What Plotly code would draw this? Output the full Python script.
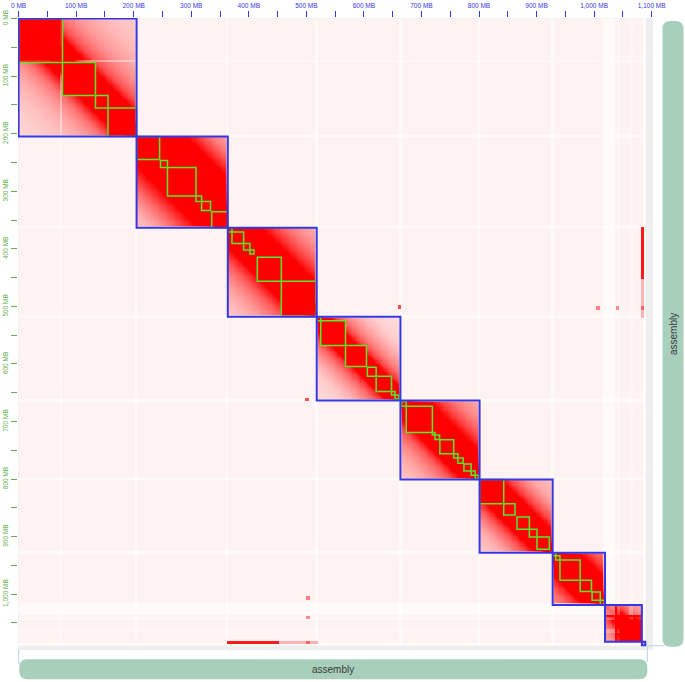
import numpy as np
import plotly.graph_objects as go

# ---------------- data (MB) ----------------
BIN_MB = 2.0
MAP_END_MB = 1090.0

chrom_bounds = [0, 205, 363.5, 518, 663.5, 801, 928, 1019, 1083, 1089]

# intra-chromosomal intensity vs distance from diagonal (1 = saturated red)
decay_dist = [
    [0, 20, 30, 45, 60, 80, 100, 130, 160, 205],
    [0, 30, 50, 70, 90, 110, 130, 160],
    [0, 25, 40, 60, 80, 100, 125, 155],
    [0, 15, 30, 45, 60, 80, 100, 146],
    [0, 20, 35, 50, 70, 90, 110, 137],
    [0, 20, 35, 50, 70, 90, 127],
    [0, 25, 45, 65, 91],
    [0, 25, 45, 64],
    [0, 6],
]
decay_val = [
    [3.0, 1.5, 1.0, 0.75, 0.55, 0.42, 0.33, 0.25, 0.20, 0.16],
    [3.0, 1.3, 1.0, 0.80, 0.60, 0.45, 0.32, 0.22],
    [3.0, 1.2, 0.9, 0.65, 0.50, 0.38, 0.28, 0.20],
    [3.0, 1.3, 0.85, 0.60, 0.45, 0.30, 0.20, 0.14],
    [3.0, 1.3, 0.9, 0.65, 0.48, 0.36, 0.28, 0.22],
    [3.0, 1.3, 0.9, 0.65, 0.45, 0.30, 0.20],
    [3.0, 1.3, 0.85, 0.60, 0.42],
    [3.0, 1.5, 1.0, 0.75],
    [3.0, 3.0],
]
# extra strength of the upper triangle (column > row) per chromosome
upper_factor = [1.25, 1.6, 1.5, 0.9, 1.5, 1.15, 1.2, 1.0, 1.0]
inter_level = 0.05
outside_level = 0.02

# contigs / scaffolds (green boxes), start and end in MB
contig_starts = [
    0, 76.3, 133.6, 155.3,
    205, 246.5, 258.7, 308.3, 318, 335.5,
    363.5, 370.8, 391, 402, 414.8, 456.5,
    518, 525, 568, 606, 621.3, 648, 654,
    665.5, 673.5, 719, 723.5, 732, 756, 763.3, 773.8, 786.3, 793.3,
    801, 843, 866, 887.5, 900.8,
    928.5, 933.3, 940.7, 975.8, 996.5, 1010.7,
]
contig_ends = [
    76.3, 133.6, 155.3, 205,
    245, 258.7, 308.3, 318, 333.5, 363.5,
    370.8, 391, 402, 409, 456.5, 517.5,
    525, 568, 604.5, 621.3, 648, 654, 661,
    673.5, 719, 723.5, 731.5, 756, 763.3, 772.5, 786.3, 793.3, 799,
    843, 862.6, 887.5, 900.8, 922.2,
    933.3, 940.7, 975.8, 995.5, 1010.7, 1018,
]

# low-coverage bands (start MB, end MB, factor)
band_start = [72, 203, 361, 516, 661.5, 799, 926, 1017, 1020, 1040, 1062, 1086]
band_end = [76, 207, 365, 520, 665.5, 803, 930, 1020, 1036, 1046, 1068, 1090]
band_factor = [0.6, 0.5, 0.5, 0.4, 0.4, 0.4, 0.5, 0.4, 0.45, 0.7, 0.7, 0.3]

# strong off-diagonal contacts (row range, column range, value)
spot_r0 = [1083, 1083, 498, 500, 500, 500]
spot_r1 = [1089, 1089, 504, 506, 506, 506]
spot_c0 = [363, 453, 660, 1005, 1039, 1083]
spot_c1 = [453, 520, 665, 1011, 1045, 1089]
spot_val = [0.9, 0.3, 0.7, 0.5, 0.45, 0.6]

x_tick_vals = list(range(0, 1101, 50))
x_tick_text = ["0 MB", "", "100 MB", "", "200 MB", "", "300 MB", "", "400 MB", "",
               "500 MB", "", "600 MB", "", "700 MB", "", "800 MB", "", "900 MB", "",
               "1,000 MB", "", "1,100 MB"]
y_tick_vals = list(range(0, 1051, 50))
y_tick_text = x_tick_text[:len(y_tick_vals)]

track_label = "assembly"

# ---------------- build the contact matrix ----------------
centers = np.arange(BIN_MB / 2, MAP_END_MB, BIN_MB)
n = len(centers)
cidx = np.searchsorted(np.array(chrom_bounds), centers, side="right") - 1
Z = np.full((n, n), inter_level)
out = cidx >= len(chrom_bounds) - 1
Z[out, :] = outside_level
Z[:, out] = outside_level
for c in range(len(chrom_bounds) - 1):
    idx = np.where(cidx == c)[0]
    pos = centers[idx]
    D = np.abs(pos[:, None] - pos[None, :])
    block = np.interp(D, decay_dist[c], decay_val[c])
    upper = pos[None, :] > pos[:, None]
    block = np.where(upper, block * upper_factor[c], block)
    Z[np.ix_(idx, idx)] = block
for s, e in zip(contig_starts, contig_ends):
    idx = np.where((centers >= s) & (centers < e))[0]
    sub = Z[np.ix_(idx, idx)]
    Z[np.ix_(idx, idx)] = np.maximum(sub, 1.5)
bias = np.ones(n)
for s, e, f in zip(band_start, band_end, band_factor):
    bias[(centers >= s) & (centers < e)] *= f
Z = Z * bias[:, None] * bias[None, :]
for r0, r1, c0, c1, v in zip(spot_r0, spot_r1, spot_c0, spot_c1, spot_val):
    ri = np.where((centers >= r0) & (centers < r1))[0]
    ci = np.where((centers >= c0) & (centers < c1))[0]
    Z[np.ix_(ri, ci)] = np.maximum(Z[np.ix_(ri, ci)], v)
    Z[np.ix_(ci, ri)] = np.maximum(Z[np.ix_(ci, ri)], v)
Z = np.clip(Z, 0, 1).round(3)

# ---------------- figure ----------------
W, H = 685, 682
PL, PT, PW, PH = 18, 18, 635, 632
SCALE = 0.5755  # px per MB
x_lo = -0.6 / SCALE
x_hi = x_lo + PW / SCALE
y_hi = x_lo + PH / SCALE

BLUE = "#3636e6"
GREEN_AX = "#62b04a"
GREEN_BOX = "#5ae62c"
BAR = "#a8cfbc"
CONNECT = "#b4d2e8"

fig = go.Figure()
fig.add_trace(go.Heatmap(
    z=Z, x=centers, y=centers,
    colorscale=[[0, "#ffffff"], [1, "#ff0000"]],
    zmin=0, zmax=1, showscale=False, hoverinfo="skip",
))

shapes = []
for s, e in zip(contig_starts, contig_ends):
    shapes.append(dict(type="rect", xref="x", yref="y", x0=s, x1=e, y0=s, y1=e,
                       line=dict(color=GREEN_BOX, width=1.5)))
for k in range(len(chrom_bounds) - 1):
    s, e = chrom_bounds[k], chrom_bounds[k + 1]
    shapes.append(dict(type="rect", xref="x", yref="y", x0=s, x1=e, y0=s, y1=e,
                       line=dict(color=BLUE, width=2)))


def px2x(px):
    return (px - PL) / PW


def py2y(py):
    return 1 - (py - PT) / PH


def rounded(x0, y0, x1, y1, r):
    pts = [("M", x0 + r, y0), ("L", x1 - r, y0), ("Q", x1, y0, x1, y0 + r),
           ("L", x1, y1 - r), ("Q", x1, y1, x1 - r, y1), ("L", x0 + r, y1),
           ("Q", x0, y1, x0, y1 - r), ("L", x0, y0 + r), ("Q", x0, y0, x0 + r, y0)]
    out = []
    for p in pts:
        cmd = p[0]
        coords = p[1:]
        seg = []
        for i in range(0, len(coords), 2):
            seg.append(f"{px2x(coords[i]):.5f},{py2y(coords[i + 1]):.5f}")
        out.append(cmd + " ".join(seg))
    return " ".join(out) + " Z"


shapes.append(dict(type="path", xref="paper", yref="paper",
                   path=rounded(662.5, 21, 683.5, 646.7, 8),
                   fillcolor=BAR, line=dict(width=0), layer="above"))
shapes.append(dict(type="path", xref="paper", yref="paper",
                   path=rounded(19.3, 659.3, 647.3, 679.3, 8),
                   fillcolor=BAR, line=dict(width=0), layer="above"))
# connector lines
for (xa, ya, xb, yb) in [(18.6, 650, 18.8, 664), (647.3, 645.8, 647.3, 662),
                         (647.3, 645.8, 664, 645.8)]:
    shapes.append(dict(type="line", xref="paper", yref="paper",
                       x0=px2x(xa), y0=py2y(ya), x1=px2x(xb), y1=py2y(yb),
                       line=dict(color=CONNECT, width=1)))

fig.update_layout(
    width=W, height=H,
    margin=dict(l=PL, t=PT, r=W - PL - PW, b=H - PT - PH, pad=0, autoexpand=False),
    paper_bgcolor="#ffffff", plot_bgcolor="#eeeeee",
    shapes=shapes,
    showlegend=False,
    font=dict(family="Arial, Liberation Sans, sans-serif"),
    annotations=[
        dict(xref="paper", yref="paper", x=px2x(673), y=py2y(334), text=track_label,
             xanchor="center", yanchor="middle",
             textangle=-90, showarrow=False, font=dict(size=10, color="#3a3a3a")),
        dict(xref="paper", yref="paper", x=px2x(333), y=py2y(669.3), text=track_label,
             xanchor="center", yanchor="middle",
             showarrow=False, font=dict(size=10, color="#3a3a3a")),
    ],
)
fig.update_xaxes(range=[x_lo, x_hi], side="top", tickvals=x_tick_vals, ticktext=x_tick_text,
                 ticks="outside", ticklen=6, tickwidth=1, tickcolor=BLUE, tickangle=0,
                 tickfont=dict(size=6.5, color=BLUE), showgrid=False, zeroline=False,
                 showline=False, automargin=False)
fig.update_yaxes(range=[y_hi, x_lo], tickvals=y_tick_vals, ticktext=y_tick_text,
                 ticks="outside", ticklen=6, tickwidth=1, tickcolor=GREEN_AX, tickangle=-90,
                 tickfont=dict(size=6.5, color=GREEN_AX), showgrid=False, zeroline=False,
                 showline=False, automargin=False)

fig.write_html(
    "out.html",
    config={"displayModeBar": False},
    post_script="document.body.style.margin='0';document.body.style.padding='0';"
                "document.body.style.overflow='hidden';",
)
